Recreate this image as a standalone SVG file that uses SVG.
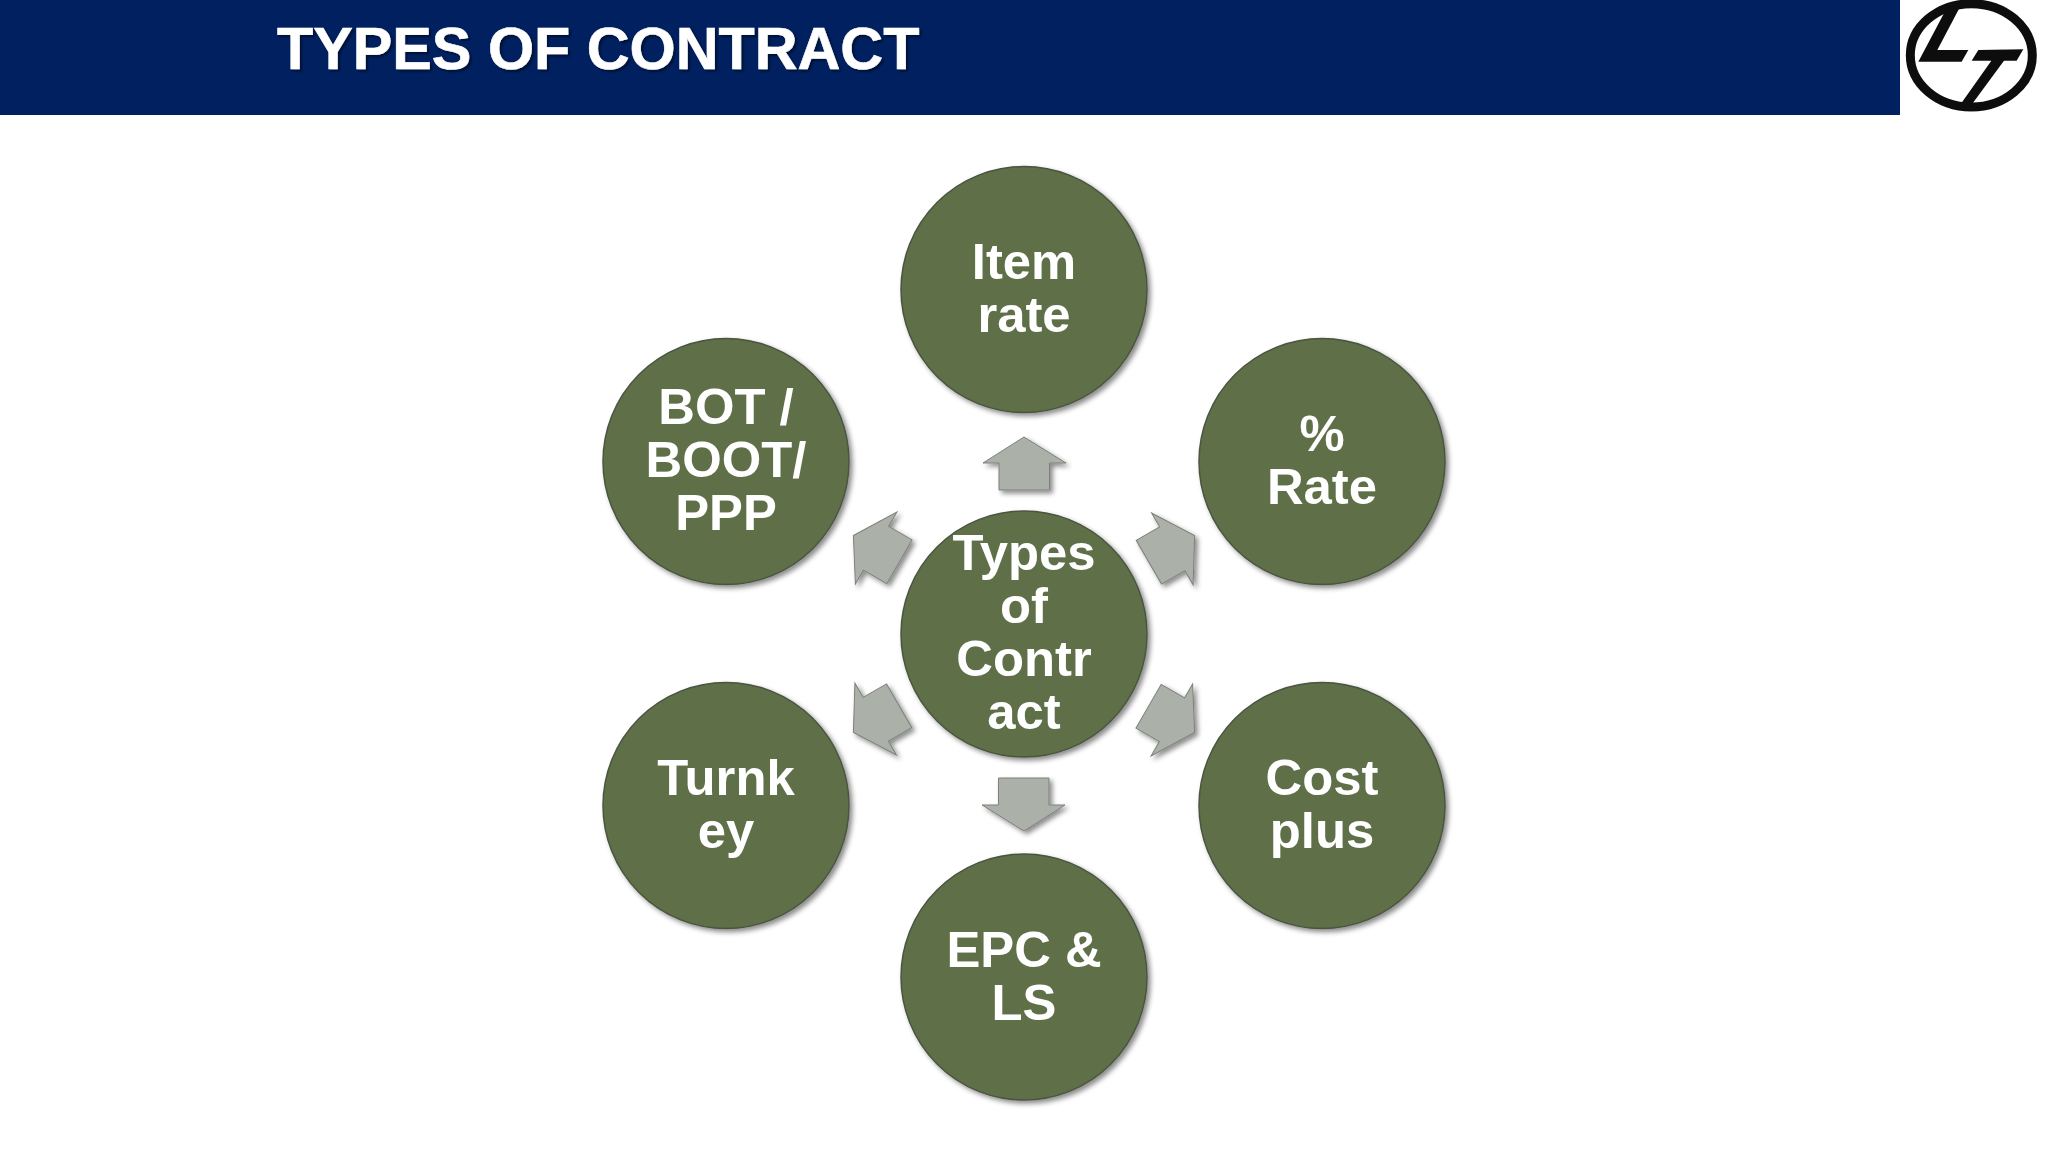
<svg xmlns="http://www.w3.org/2000/svg" width="2048" height="1152" viewBox="0 0 2048 1152">
<style>
.node{fill:#5f6f48;stroke:#4a5540;stroke-width:1.5}
.lbl{font-family:"Liberation Sans",Arial,sans-serif;font-weight:700;font-size:50.800px;fill:#fff;text-anchor:middle}
.arrow{fill:#abb0a8;stroke:#7d817a;stroke-width:1}
.title{font-family:"Liberation Sans",Arial,sans-serif;font-weight:700;font-size:59.300px;fill:#fff;stroke:#fff;stroke-width:0.6}
</style>
<defs>
<filter id="sh" x="-20%" y="-20%" width="140%" height="140%"><feDropShadow dx="3" dy="3" stdDeviation="2.500" flood-color="#000" flood-opacity="0.45"/></filter>
<filter id="ts" x="-5%" y="-20%" width="110%" height="140%"><feDropShadow dx="2" dy="2" stdDeviation="1" flood-color="#000" flood-opacity="0.5"/></filter>
<filter id="soft" x="-5%" y="-5%" width="110%" height="110%"><feGaussianBlur stdDeviation="0.700"/></filter>
<polygon id="arr" class="arrow" points="1024,437 1066,463 1049.500,463 1049.500,490 999,490 999,463 983,463"/>
</defs>
<rect width="2048" height="1152" fill="#fff"/>
<g id="header">
<rect x="0" y="0" width="1900" height="115" fill="#002060"/>
<text class="title" x="277" y="69" filter="url(#ts)">TYPES OF CONTRACT</text>
</g>
<g id="logo" filter="url(#soft)" transform="translate(1800,0) scale(0.3333)">
<ellipse cx="514" cy="166" rx="183" ry="155" fill="none" stroke="#111" stroke-width="27"/>
<polygon fill="#111" points="440,25 478,25 412,150 505,150 485,185 355,185"/>
<polygon fill="#111" points="535,150 670,148 650,182 612,182 512,318 478,318 574,182 515,182"/>
</g>
<g id="connectors" filter="url(#sh)">
<use href="#arr"/>
<use href="#arr" transform="rotate(60 1024 634)"/>
<use href="#arr" transform="rotate(120 1024 634)"/>
<use href="#arr" transform="rotate(180 1024 634)"/>
<use href="#arr" transform="rotate(240 1024 634)"/>
<use href="#arr" transform="rotate(300 1024 634)"/>
</g>
<g id="node-center"><circle class="node" cx="1024" cy="634" r="123" filter="url(#sh)"/><text class="lbl"><tspan x="1024" y="570">Types</tspan><tspan x="1024" y="623">of</tspan><tspan x="1024" y="676">Contr</tspan><tspan x="1024" y="729">act</tspan></text></g>
<g id="node-item"><circle class="node" cx="1024" cy="289.500" r="123" filter="url(#sh)"/><text class="lbl"><tspan x="1024" y="279">Item</tspan><tspan x="1024" y="332">rate</tspan></text></g>
<g id="node-rate"><circle class="node" cx="1322" cy="461.500" r="123" filter="url(#sh)"/><text class="lbl"><tspan x="1322" y="451">%</tspan><tspan x="1322" y="504">Rate</tspan></text></g>
<g id="node-cost"><circle class="node" cx="1322" cy="805.500" r="123" filter="url(#sh)"/><text class="lbl"><tspan x="1322" y="795">Cost</tspan><tspan x="1322" y="848">plus</tspan></text></g>
<g id="node-epc"><circle class="node" cx="1024" cy="977" r="123" filter="url(#sh)"/><text class="lbl"><tspan x="1024" y="966.500">EPC &amp;</tspan><tspan x="1024" y="1019.500">LS</tspan></text></g>
<g id="node-turnkey"><circle class="node" cx="726" cy="805.500" r="123" filter="url(#sh)"/><text class="lbl"><tspan x="726" y="795">Turnk</tspan><tspan x="726" y="848">ey</tspan></text></g>
<g id="node-bot"><circle class="node" cx="726" cy="461.500" r="123" filter="url(#sh)"/><text class="lbl"><tspan x="726" y="424">BOT /</tspan><tspan x="726" y="477">BOOT/</tspan><tspan x="726" y="530">PPP</tspan></text></g>
</svg>
